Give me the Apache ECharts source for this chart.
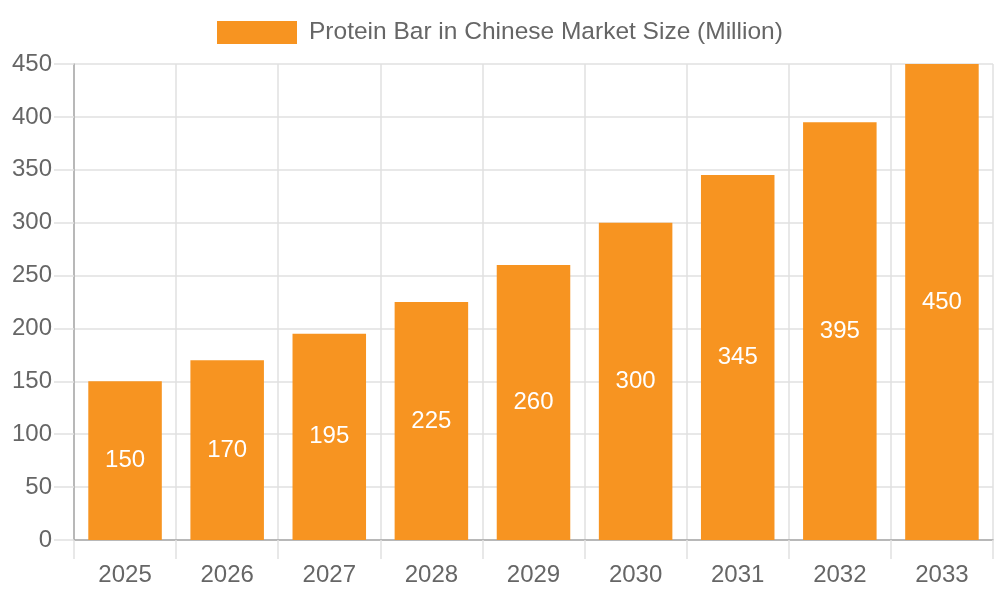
<!DOCTYPE html>
<html>
<head>
<meta charset="utf-8">
<script src="https://cdn.jsdelivr.net/npm/echarts@6/dist/echarts.min.js"></script>
<style>
html, body { margin: 0; padding: 0; background: #fff; }
#main { width: 1000px; height: 600px; }
</style>
</head>
<body>
<div id="main"></div>
<script>
var years = ['2025', '2026', '2027', '2028', '2029', '2030', '2031', '2032', '2033'];
var marketSize = [150, 170, 195, 225, 260, 300, 345, 395, 450];
var seriesName = 'Protein Bar in Chinese Market Size (Million)';

var myChart = echarts.init(document.getElementById('main'));
var font = 'Liberation Sans, Arial, Helvetica, sans-serif';
var gridColor = '#e1e1e1';
var axisColor = '#a8a8a8';

var option = {
    animation: false,
    textStyle: { fontFamily: font },
    legend: {
        top: 20,
        left: 217,
        padding: 0,
        itemWidth: 80,
        itemHeight: 23,
        itemGap: 10,
        icon: 'rect',
        textStyle: { fontSize: 24.5, color: '#666', fontFamily: font, padding: [0, 0, 0, 7] },
        data: [seriesName]
    },
    grid: {
        left: 74,
        right: 7,
        top: 64,
        bottom: 60,
        containLabel: false
    },
    xAxis: {
        type: 'category',
        data: years,
        axisLine: { lineStyle: { color: axisColor, width: 1.5 } },
        axisTick: { show: true, length: 19, alignWithLabel: false, lineStyle: { color: gridColor, width: 1.5 } },
        splitLine: { show: true, lineStyle: { color: gridColor, width: 1.5 } },
        axisLabel: { fontSize: 24, color: '#666', margin: 23, fontFamily: font }
    },
    yAxis: {
        type: 'value',
        min: 0,
        max: 450,
        interval: 50,
        axisLine: { show: true, lineStyle: { color: axisColor, width: 1.5 } },
        axisTick: { show: true, length: 20, lineStyle: { color: gridColor, width: 1.5 } },
        splitLine: { show: true, lineStyle: { color: gridColor, width: 1.5 } },
        axisLabel: { fontSize: 24, color: '#666', margin: 22, fontFamily: font }
    },
    series: [{
        name: seriesName,
        type: 'bar',
        data: marketSize,
        barCategoryGap: '28%',
        itemStyle: { color: '#F79421' },
        label: {
            show: true,
            position: 'inside',
            color: '#fff',
            fontSize: 24,
            fontFamily: font
        }
    }]
};
myChart.setOption(option);
</script>
</body>
</html>
